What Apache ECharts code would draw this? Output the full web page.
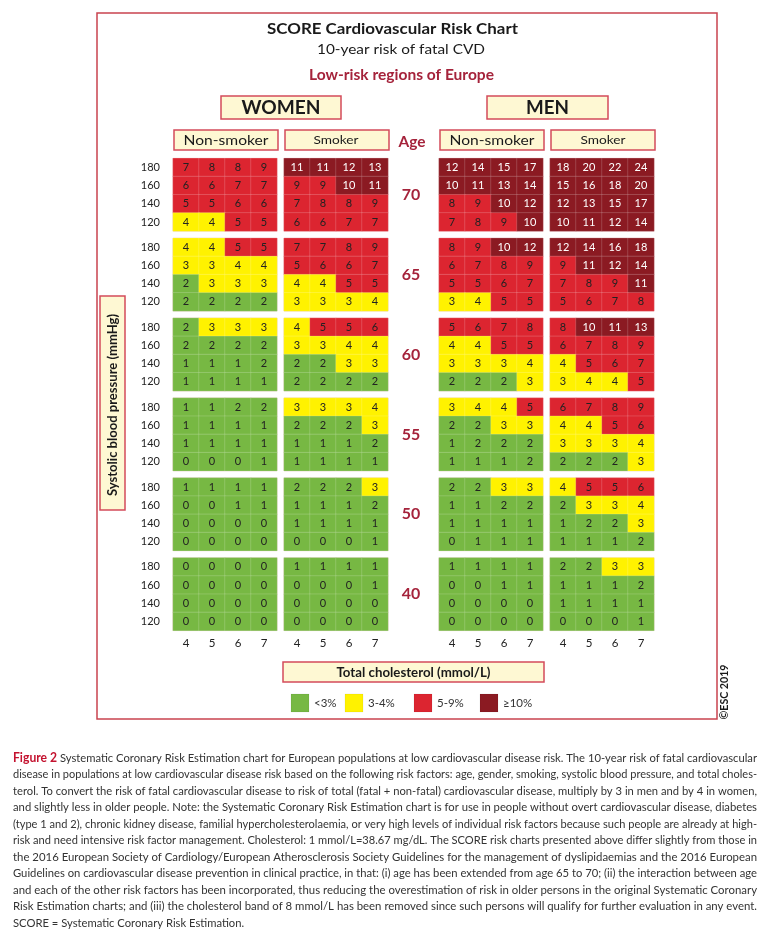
<!DOCTYPE html>
<html><head><meta charset="utf-8">
<script src="https://cdn.jsdelivr.net/npm/echarts@6/dist/echarts.min.js"></script>
<style>html,body{margin:0;padding:0;background:#fff}#c{width:768px;height:939px}</style>
</head><body><div id="c"></div>
<script>
// ---------- DATA ----------
const ageLabels = ['70', '65', '60', '55', '50', '40'];
const bpLabels = ['120', '140', '160', '180'];          // bottom -> top
const cholLabels = ['4', '5', '6', '7'];
// each block: rows 180,160,140,120 ; columns cholesterol 4..7
const womenNonSmoker = [
  [[7,8,8,9],[6,6,7,7],[5,5,6,6],[4,4,5,5]],
  [[4,4,5,5],[3,3,4,4],[2,3,3,3],[2,2,2,2]],
  [[2,3,3,3],[2,2,2,2],[1,1,1,2],[1,1,1,1]],
  [[1,1,2,2],[1,1,1,1],[1,1,1,1],[0,0,0,1]],
  [[1,1,1,1],[0,0,1,1],[0,0,0,0],[0,0,0,0]],
  [[0,0,0,0],[0,0,0,0],[0,0,0,0],[0,0,0,0]]
];
const womenSmoker = [
  [[11,11,12,13],[9,9,10,11],[7,8,8,9],[6,6,7,7]],
  [[7,7,8,9],[5,6,6,7],[4,4,5,5],[3,3,3,4]],
  [[4,5,5,6],[3,3,4,4],[2,2,3,3],[2,2,2,2]],
  [[3,3,3,4],[2,2,2,3],[1,1,1,2],[1,1,1,1]],
  [[2,2,2,3],[1,1,1,2],[1,1,1,1],[0,0,0,1]],
  [[1,1,1,1],[0,0,0,1],[0,0,0,0],[0,0,0,0]]
];
const menNonSmoker = [
  [[12,14,15,17],[10,11,13,14],[8,9,10,12],[7,8,9,10]],
  [[8,9,10,12],[6,7,8,9],[5,5,6,7],[3,4,5,5]],
  [[5,6,7,8],[4,4,5,5],[3,3,3,4],[2,2,2,3]],
  [[3,4,4,5],[2,2,3,3],[1,2,2,2],[1,1,1,2]],
  [[2,2,3,3],[1,1,2,2],[1,1,1,1],[0,1,1,1]],
  [[1,1,1,1],[0,0,1,1],[0,0,0,0],[0,0,0,0]]
];
const menSmoker = [
  [[18,20,22,24],[15,16,18,20],[12,13,15,17],[10,11,12,14]],
  [[12,14,16,18],[9,11,12,14],[7,8,9,11],[5,6,7,8]],
  [[8,10,11,13],[6,7,8,9],[4,5,6,7],[3,4,4,5]],
  [[6,7,8,9],[4,4,5,6],[3,3,3,4],[2,2,2,3]],
  [[4,5,5,6],[2,3,3,4],[1,2,2,3],[1,1,1,2]],
  [[2,2,3,3],[1,1,1,2],[1,1,1,1],[0,0,0,1]]
];
const riskBands = [
  {lt: 3, label: '<3%'},
  {gte: 3, lte: 4, label: '3-4%'},
  {gte: 5, lte: 9, label: '5-9%'},
  {gte: 10, label: '≥10%'}
];
const bandColors = ['#77b843', '#fff200', '#dc2530', '#8b1a22'];
const captionLead = 'Figure 2';
const captionLines = [
  ' Systematic Coronary Risk Estimation chart for European populations at low cardiovascular disease risk. The 10-year risk of fatal cardiovascular',
  'disease in populations at low cardiovascular disease risk based on the following risk factors: age, gender, smoking, systolic blood pressure, and total choles-',
  'terol. To convert the risk of fatal cardiovascular disease to risk of total (fatal + non-fatal) cardiovascular disease, multiply by 3 in men and by 4 in women,',
  'and slightly less in older people. Note: the Systematic Coronary Risk Estimation chart is for use in people without overt cardiovascular disease, diabetes',
  '(type 1 and 2), chronic kidney disease, familial hypercholesterolaemia, or very high levels of individual risk factors because such people are already at high-',
  'risk and need intensive risk factor management. Cholesterol: 1 mmol/L=38.67 mg/dL. The SCORE risk charts presented above differ slightly from those in',
  'the 2016 European Society of Cardiology/European Atherosclerosis Society Guidelines for the management of dyslipidaemias and the 2016 European',
  'Guidelines on cardiovascular disease prevention in clinical practice, in that: (i) age has been extended from age 65 to 70; (ii) the interaction between age',
  'and each of the other risk factors has been incorporated, thus reducing the overestimation of risk in older persons in the original Systematic Coronary',
  'Risk Estimation charts; and (iii) the cholesterol band of 8 mmol/L has been removed since such persons will qualify for further evaluation in any event.',
  'SCORE = Systematic Coronary Risk Estimation.'
];

// ---------- LAYOUT ----------
const FONT = 'Lato';
const PW = 104, BH = 72.8, TOP0 = 158.3, PITCH = 79.9;
const panels = [
  {data: womenNonSmoker, left: 173},
  {data: womenSmoker, left: 284},
  {data: menNonSmoker, left: 439},
  {data: menSmoker, left: 550}
];
const legendX = [291, 345, 414, 480];
const DARKRED = '#a5233b', BOXFILL = '#fef8d3', BOXLINE = '#d44b5b';

const ctx = document.createElement('canvas').getContext('2d');
function measure(text, font) { ctx.font = font; return ctx.measureText(text).width; }
function txt(text, x, y, size, weight, color, targetW, align, rot) {
  const font = weight + ' ' + size + 'px ' + FONT;
  const sx = targetW ? targetW / measure(text, font) : 1;
  return {type: 'text', x: x, y: y, rotation: rot || 0, scaleX: sx, z: 10,
    style: {text: text, x: 0, y: 0, font: font, fill: color,
      align: align || 'center', verticalAlign: 'middle',
      textAlign: align || 'center', textVerticalAlign: 'middle'}};
}
function box(x, y, w, h) {
  return {type: 'rect', shape: {x: x, y: y, width: w, height: h}, z: 5,
    style: {fill: BOXFILL, stroke: BOXLINE, lineWidth: 1.5}};
}

const grids = [], xAxes = [], yAxes = [], series = [];
panels.forEach(function (p, pi) {
  ageLabels.forEach(function (age, ai) {
    const idx = grids.length;
    grids.push({left: p.left, top: TOP0 + ai * PITCH, width: PW, height: BH,
      show: true, borderColor: '#efcdd0', borderWidth: 1, backgroundColor: 'transparent'});
    xAxes.push({type: 'category', gridIndex: idx, data: cholLabels,
      axisLine: {show: false}, axisTick: {show: false}, splitLine: {show: false},
      axisLabel: {show: ai === ageLabels.length - 1, fontSize: 11.5, color: '#222', margin: 7, fontFamily: FONT}});
    yAxes.push({type: 'category', gridIndex: idx, data: bpLabels,
      axisLine: {show: false}, axisTick: {show: false}, splitLine: {show: false},
      axisLabel: {show: pi === 0, fontSize: 11, color: '#222', margin: 13, fontFamily: FONT}});
    const d = [];
    p.data[ai].forEach(function (row, r) {
      row.forEach(function (v, c) {
        d.push({value: [c, bpLabels.length - 1 - r, v], label: {color: v >= 10 ? '#ffffff' : '#222222'}});
      });
    });
    series.push({type: 'heatmap', xAxisIndex: idx, yAxisIndex: idx, data: d,
      label: {show: true, fontSize: 11, fontFamily: FONT},
      itemStyle: {borderColor: 'rgba(255,255,255,0.28)', borderWidth: 0.6},
      emphasis: {disabled: true}});
  });
});

const graphic = [
  {type: 'rect', shape: {x: 97, y: 13, width: 620, height: 706}, z: 1,
    style: {fill: 'none', stroke: '#c9434f', lineWidth: 1.5}},
  txt('SCORE Cardiovascular Risk Chart', 392.5, 29, 15, 'bold', '#1a1a1a', 251),
  txt('10-year risk of fatal CVD', 401, 49, 14, 'normal', '#1a1a1a', 168),
  txt('Low-risk regions of Europe', 401.5, 75, 14.5, 'bold', DARKRED, 185),
  box(221, 96, 120, 23), txt('WOMEN', 281, 108, 18, 'bold', '#1a1a1a', 79),
  box(487, 96, 121, 23), txt('MEN', 547.5, 108, 18, 'bold', '#1a1a1a', 43),
  box(174, 130, 104, 20), txt('Non-smoker', 226, 140, 14, 'normal', '#1a1a1a', 85),
  box(285, 130, 104, 20), txt('Smoker', 336, 140.5, 11.5, 'normal', '#1a1a1a', 45),
  box(440, 130, 104, 20), txt('Non-smoker', 492, 140, 14, 'normal', '#1a1a1a', 85),
  box(551, 130, 104, 20), txt('Smoker', 603, 140.5, 11.5, 'normal', '#1a1a1a', 45),
  txt('Age', 412, 142, 15, 'bold', DARKRED, 27),
  box(100, 296, 25, 214),
  txt('Systolic blood pressure (mmHg)', 112.5, 405, 12.5, 'bold', '#1a1a1a', 182, 'center', Math.PI / 2),
  box(283, 662, 261, 20),
  txt('Total cholesterol (mmol/L)', 413.5, 672.5, 13, 'bold', '#1a1a1a', 154),
  txt('©ESC 2019', 725, 692, 10.5, 'bold', '#1a1a1a', 55, 'center', Math.PI / 2)
];
ageLabels.forEach(function (age, ai) {
  graphic.push(txt(age, 411, TOP0 + ai * PITCH + BH / 2, 16, 'bold', DARKRED, 18.5));
});
// legend (colour key) from the risk bands
riskBands.forEach(function (b, i) {
  graphic.push({type: 'rect', shape: {x: legendX[i], y: 694, width: 18, height: 18}, z: 5,
    style: {fill: bandColors[i], stroke: 'rgba(0,0,0,0.12)', lineWidth: 0.5}});
  graphic.push(txt(b.label, legendX[i] + 23, 703.5, 11.5, 'normal', '#333', null, 'left'));
});

// caption, justified by horizontal scaling
const CAP_X = 13, CAP_W = 744, CAP_Y = 758, CAP_LH = 16.5;
const capFont = 'normal 12px ' + FONT, leadFont = 'bold 13px ' + FONT;
let scaleSum = 0;
captionLines.forEach(function (line, i) {
  const y = CAP_Y + i * CAP_LH;
  if (i === 0) {
    const w1 = measure(captionLead, leadFont), w2 = measure(line, capFont);
    const s = CAP_W / (w1 + w2); scaleSum += s;
    graphic.push({type: 'text', x: CAP_X, y: y, scaleX: s, style: {text: captionLead, x: 0, y: 0, font: leadFont, fill: '#c4122f', align: 'left', verticalAlign: 'middle', textAlign: 'left', textVerticalAlign: 'middle'}});
    graphic.push({type: 'text', x: CAP_X + w1 * s, y: y, scaleX: s, style: {text: line, x: 0, y: 0, font: capFont, fill: '#333', align: 'left', verticalAlign: 'middle', textAlign: 'left', textVerticalAlign: 'middle'}});
  } else {
    let s;
    if (i < captionLines.length - 1) { s = CAP_W / measure(line, capFont); scaleSum += s; }
    else { s = scaleSum / (captionLines.length - 1); }
    graphic.push({type: 'text', x: CAP_X, y: y, scaleX: s, style: {text: line, x: 0, y: 0, font: capFont, fill: '#333', align: 'left', verticalAlign: 'middle', textAlign: 'left', textVerticalAlign: 'middle'}});
  }
});

const chart = echarts.init(document.getElementById('c'), null, {renderer: 'canvas'});
chart.setOption({
  backgroundColor: '#ffffff',
  animation: false,
  textStyle: {fontFamily: FONT},
  grid: grids, xAxis: xAxes, yAxis: yAxes, series: series,
  visualMap: {
    type: 'piecewise', show: false,
    pieces: riskBands.map(function (b, i) { return Object.assign({color: bandColors[i]}, b); })
  },
  graphic: graphic
});
</script></body></html>
